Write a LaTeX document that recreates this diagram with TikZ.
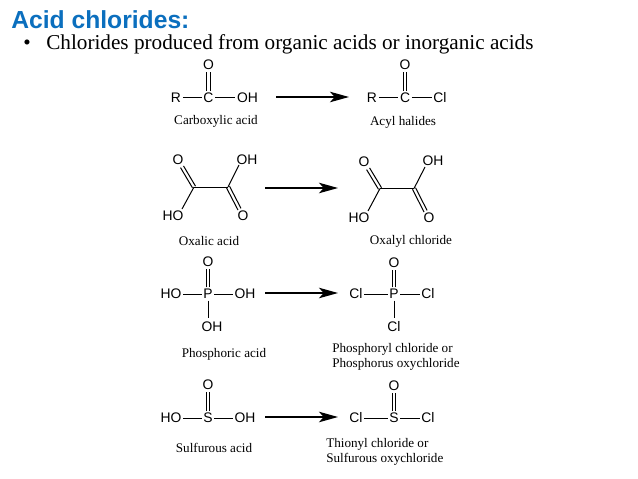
\documentclass[tikz,border=0pt]{standalone}
\usepackage{fontspec}
\setmainfont{Liberation Serif}
\newfontfamily\atomfont{Liberation Sans}
\usetikzlibrary{arrows.meta}
\definecolor{titleblue}{HTML}{0B6FBE}
\tikzset{
 atom/.style={font=\atomfont\fontsize{10.4}{12}\selectfont, inner sep=1.2pt},
 bond/.style={black, line width=.75pt},
 react/.style={black, line width=1.15pt, -{Stealth[length=19*.75pt, width=10.5*.75pt, inset=3.5pt]}},
 lbl/.style={font=\fontsize{9.85}{11}\selectfont, inner sep=0pt, anchor=base},
 lblw/.style={lbl, anchor=base west}
}
% two strands of a double bond, shifted by (#3,#4) either way
\newcommand{\dblbond}[4]{
 \draw[bond, transform canvas={shift={(#3,#4)}}] (#1)--(#2);
 \draw[bond, transform canvas={shift={(-#3,-#4)}}] (#1)--(#2);
}
\begin{document}
\begin{tikzpicture}[x=.75pt, y=-.75pt]
\useasboundingbox (0,0) rectangle (638,478);
\node[anchor=base west, inner sep=0pt, text=titleblue, font=\atomfont\bfseries\fontsize{18.5}{20}\selectfont] (title) at (11,29) {Acid chlorides:};
\node[anchor=base west, inner sep=0pt, font=\fontsize{15.9}{18}\selectfont] (bull) at (23,50) {•};
\node[anchor=base west, inner sep=0pt, font=\fontsize{15.9}{18}\selectfont] (sub) at (46,50) {Chlorides produced from organic acids or inorganic acids};
% carboxylic acid
\node[atom] (r1) at (176,97.5) {R};
\node[atom] (c1) at (208.5,97.5) {C};
\node[atom] (oh1) at (247.5,97.5) {OH};
\node[atom] (o1) at (208.5,65) {O};
\draw[bond] (r1)--(c1);
\draw[bond] (c1)--(oh1);
\dblbond{c1}{o1}{1.7}{0}
\coordinate (a1s) at (276,97);
\coordinate (a1e) at (349,97);
\draw[react] (a1s)--(a1e);
% acyl halides
\node[atom] (r2) at (372,97.5) {R};
\node[atom] (c2) at (405,97.5) {C};
\node[atom] (cl2) at (440,97.5) {Cl};
\node[atom] (o2) at (405,65) {O};
\draw[bond] (r2)--(c2);
\draw[bond] (c2)--(cl2);
\dblbond{c2}{o2}{1.7}{0}
\node[lbl] (n1) at (216,124) {Carboxylic acid};
\node[lbl] (n2) at (403,125) {Acyl halides};
% oxalic acid
\coordinate (c3) at (194,187);
\coordinate (c4) at (228,187);
\node[atom] (o3) at (178,160) {O};
\node[atom] (oh3) at (247,160) {OH};
\node[atom] (ho3) at (173,216) {HO};
\node[atom] (o4) at (243,216) {O};
\coordinate (hb3) at (182,209);
\coordinate (hb4) at (239,165);
\draw[bond] (c3)--(c4);
\dblbond{c3}{o3}{1.5}{-.85}
\draw[bond] (c3)--(hb3);
\draw[bond] (c4)--(hb4);
\dblbond{c4}{o4}{1.5}{-.85}
\coordinate (a2s) at (265,188);
\coordinate (a2e) at (338,188);
\draw[react] (a2s)--(a2e);
% oxalyl chloride
\coordinate (c5) at (380,188.5);
\coordinate (c6) at (414,188.5);
\node[atom] (o5) at (364,162) {O};
\node[atom] (oh5) at (433,161) {OH};
\node[atom] (ho5) at (359,218) {HO};
\node[atom] (o6) at (429,218) {O};
\coordinate (hb5) at (368,211);
\coordinate (hb6) at (425,167);
\draw[bond] (c5)--(c6);
\dblbond{c5}{o5}{1.5}{-.85}
\draw[bond] (c5)--(hb5);
\draw[bond] (c6)--(hb6);
\dblbond{c6}{o6}{1.5}{-.85}
\node[lbl] (n3) at (209,245) {Oxalic acid};
\node[lbl] (n4) at (411,244) {Oxalyl chloride};
% phosphoric acid
\node[atom] (p1) at (208,294) {P};
\node[atom] (po1) at (208,262) {O};
\node[atom] (pho1) at (171,294) {HO};
\node[atom] (poh1) at (245,294) {OH};
\node[atom] (poh2) at (212,327) {OH};
\coordinate (pb1) at (208,318);
\dblbond{p1}{po1}{1.7}{0}
\draw[bond] (pho1)--(p1);
\draw[bond] (p1)--(poh1);
\draw[bond] (p1)--(pb1);
\coordinate (a3s) at (265,293);
\coordinate (a3e) at (338,293);
\draw[react] (a3s)--(a3e);
% phosphoryl chloride
\node[atom] (p2) at (394,294) {P};
\node[atom] (po2) at (394,263) {O};
\node[atom] (pcl1) at (356,294) {Cl};
\node[atom] (pcl2) at (428,294) {Cl};
\node[atom] (pcl3) at (394,327) {Cl};
\coordinate (pb2) at (394,318);
\dblbond{p2}{po2}{1.7}{0}
\draw[bond] (pcl1)--(p2);
\draw[bond] (p2)--(pcl2);
\draw[bond] (p2)--(pb2);
\node[lbl] (n5) at (224,357.5) {Phosphoric acid};
\node[lblw] (n6) at (332,352) {Phosphoryl chloride or};
\node[lblw] (n7) at (332,367) {Phosphorus oxychloride};
% sulfurous acid
\node[atom] (s1) at (208,418) {S};
\node[atom] (so1) at (208,385) {O};
\node[atom] (sho1) at (171,418) {HO};
\node[atom] (soh1) at (245,418) {OH};
\dblbond{s1}{so1}{1.7}{0}
\draw[bond] (sho1)--(s1);
\draw[bond] (s1)--(soh1);
\coordinate (a4s) at (265,417);
\coordinate (a4e) at (338,417);
\draw[react] (a4s)--(a4e);
% thionyl chloride
\node[atom] (s2) at (394,418) {S};
\node[atom] (so2) at (394,386) {O};
\node[atom] (scl1) at (356,418) {Cl};
\node[atom] (scl2) at (428,418) {Cl};
\dblbond{s2}{so2}{1.7}{0}
\draw[bond] (scl1)--(s2);
\draw[bond] (s2)--(scl2);
\node[lbl] (n8) at (214,452) {Sulfurous acid};
\node[lblw] (n9) at (326,447) {Thionyl chloride or};
\node[lblw] (n10) at (326,462) {Sulfurous oxychloride};
\end{tikzpicture}
\end{document}
